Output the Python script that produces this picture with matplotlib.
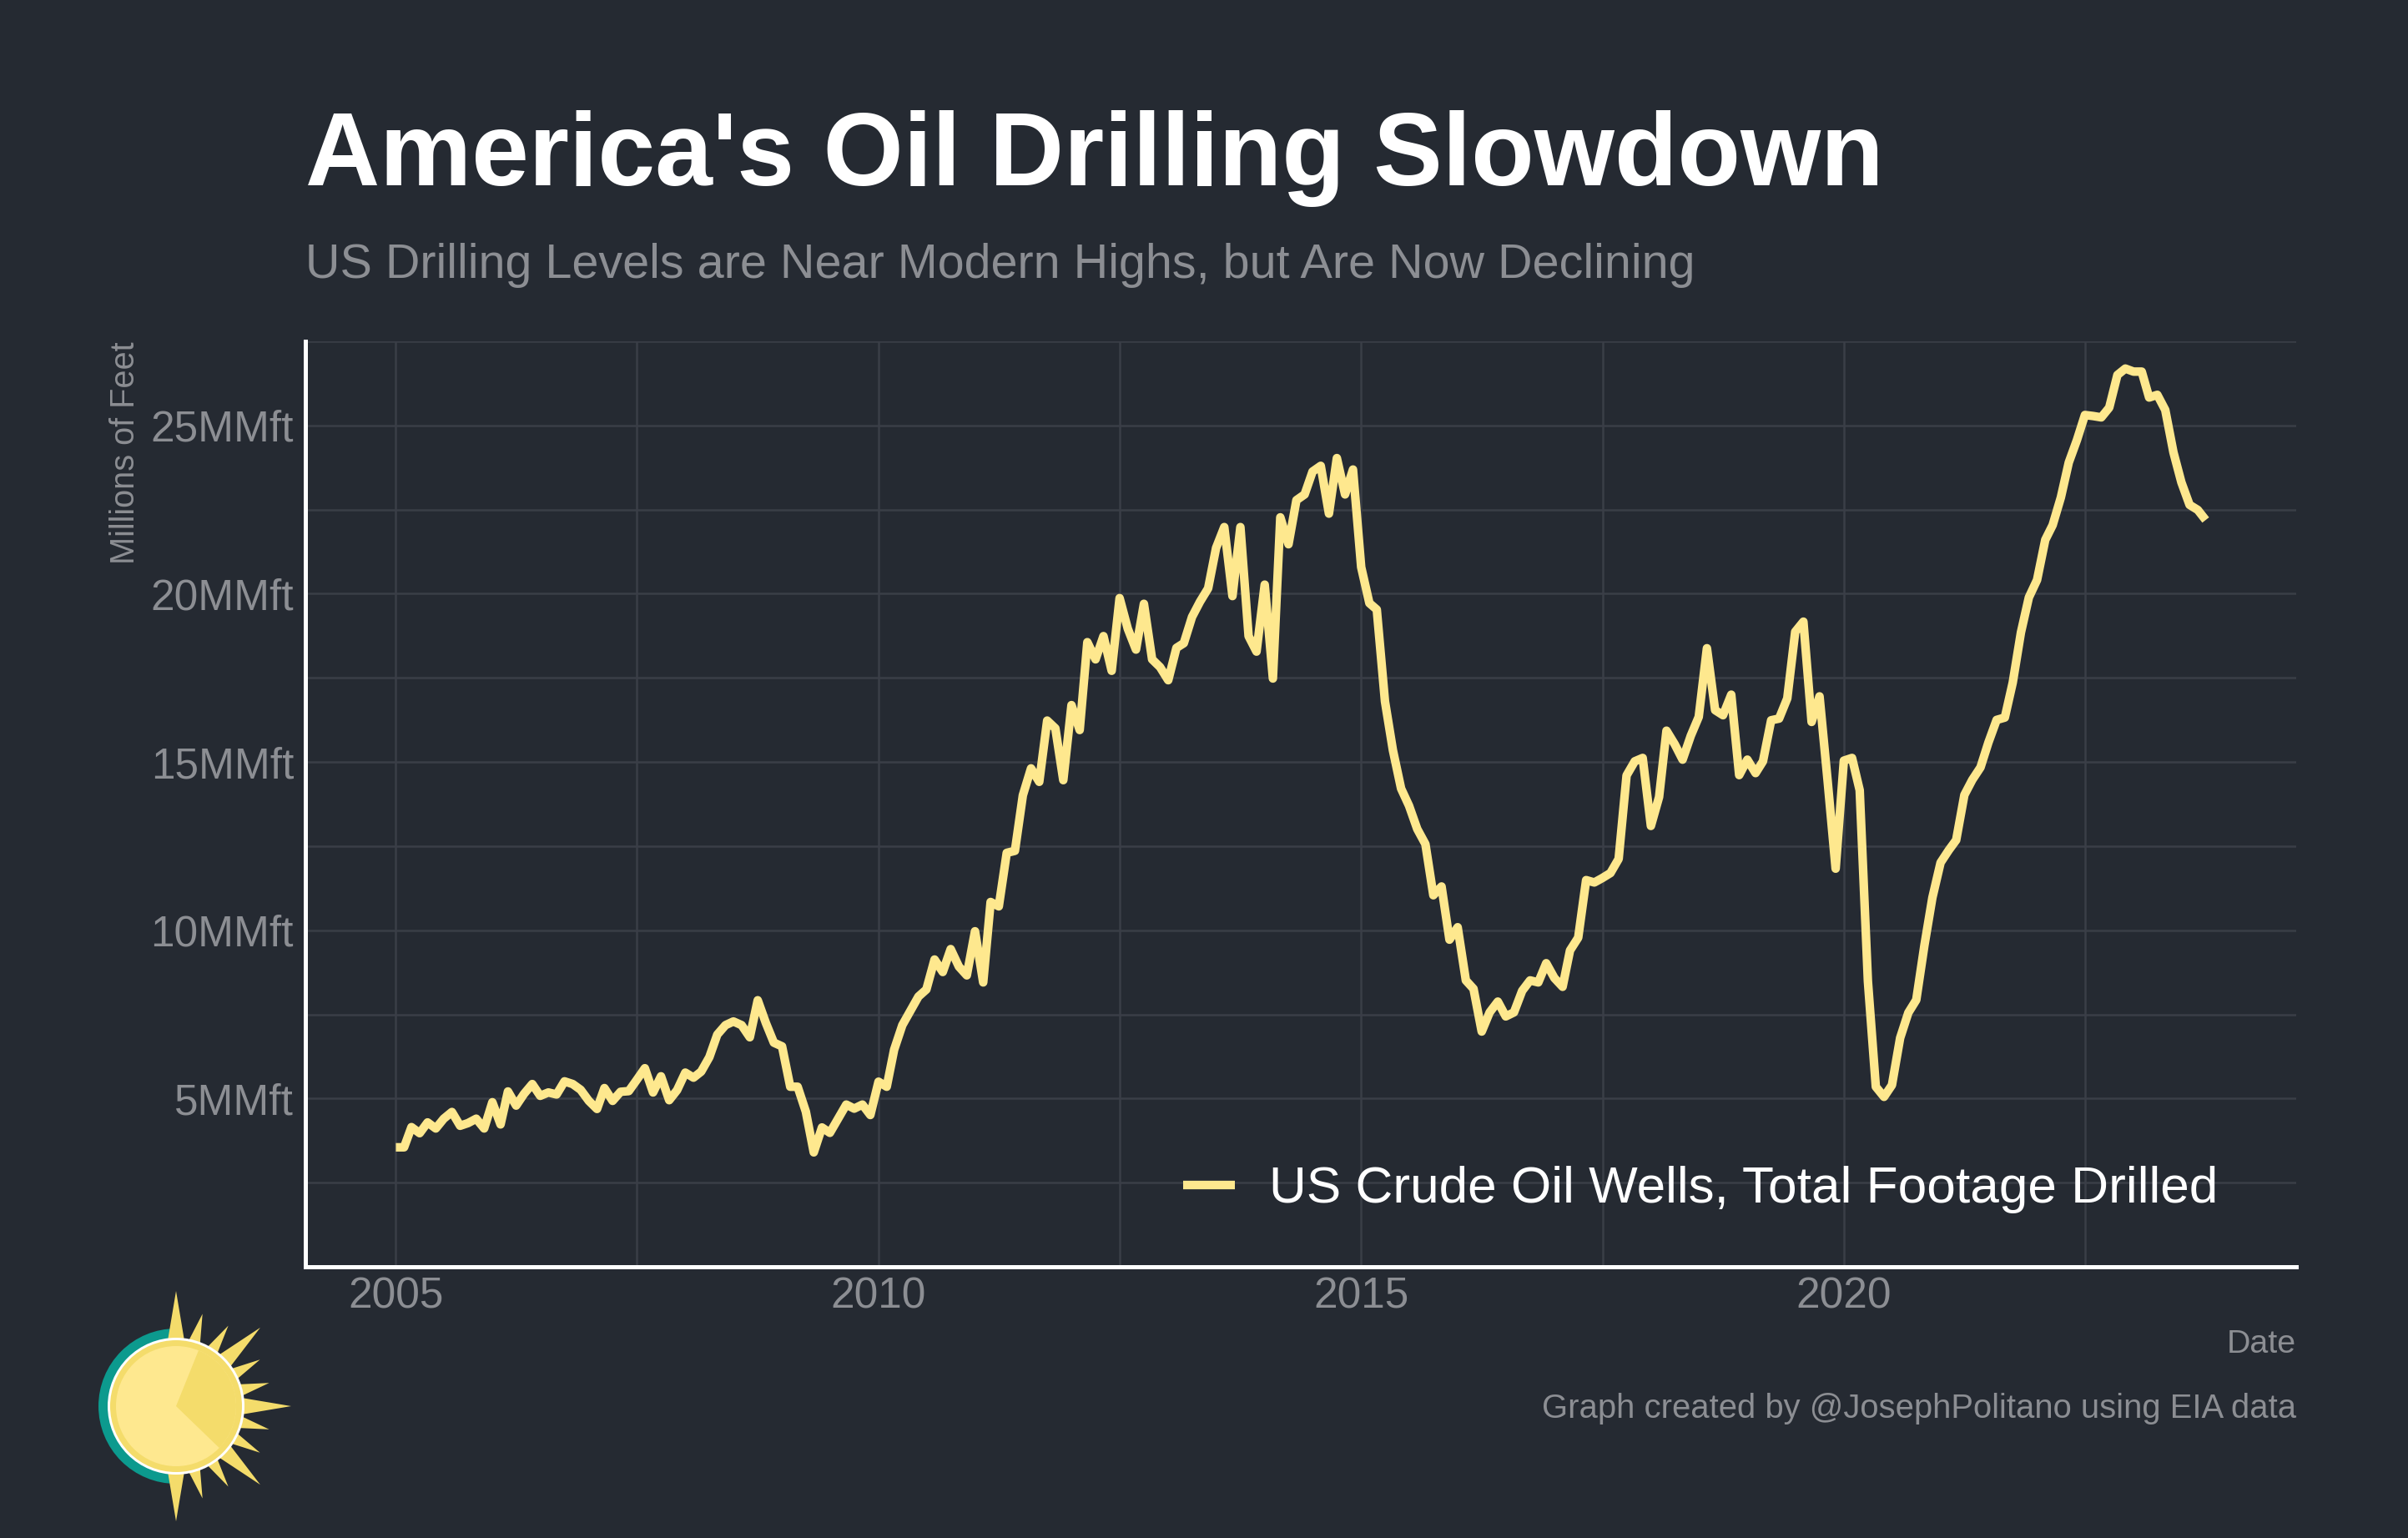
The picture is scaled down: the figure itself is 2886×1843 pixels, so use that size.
import matplotlib
matplotlib.use("Agg")
import matplotlib.pyplot as plt
import matplotlib.dates as mdates
from matplotlib.patches import Circle, Wedge, Polygon
from matplotlib.ticker import FixedLocator
import numpy as np
import pandas as pd

plt.rcParams['font.family'] = ['Liberation Sans', 'DejaVu Sans']

# US crude oil wells, total footage drilled (millions of feet), monthly from Jan 2005
ft_2005 = [3.55, 3.55, 4.15, 3.97, 4.29, 4.11, 4.40, 4.60, 4.19, 4.27, 4.40, 4.11]
ft_2006 = [4.89, 4.23, 5.21, 4.79, 5.14, 5.43, 5.08, 5.18, 5.12, 5.51, 5.43, 5.26]
ft_2007 = [4.93, 4.69, 5.31, 4.93, 5.20, 5.22, 5.55, 5.90, 5.18, 5.66, 4.95, 5.25]
ft_2008 = [5.77, 5.62, 5.80, 6.23, 6.90, 7.18, 7.29, 7.18, 6.82, 7.92, 7.24, 6.66]
ft_2009 = [6.55, 5.35, 5.35, 4.61, 3.40, 4.14, 3.98, 4.40, 4.82, 4.70, 4.82, 4.51]
ft_2010 = [5.50, 5.35, 6.45, 7.18, 7.60, 8.03, 8.24, 9.13, 8.76, 9.44, 8.92, 8.66]
ft_2011 = [9.97, 8.45, 10.84, 10.71, 12.30, 12.36, 14.01, 14.81, 14.41, 16.23, 16.00, 14.46]
ft_2012 = [16.69, 15.95, 18.56, 18.05, 18.74, 17.71, 19.87, 18.96, 18.34, 19.70, 18.05, 17.82]
ft_2013 = [17.43, 18.39, 18.53, 19.31, 19.76, 20.16, 21.36, 21.98, 19.93, 21.98, 18.74, 18.28]
ft_2014 = [20.27, 17.48, 22.27, 21.47, 22.78, 22.95, 23.63, 23.80, 22.38, 24.03, 22.95, 23.69]
ft_2015 = [20.79, 19.72, 19.53, 16.80, 15.35, 14.21, 13.70, 13.01, 12.56, 11.04, 11.30, 9.72]
ft_2016 = [10.09, 8.51, 8.26, 6.99, 7.56, 7.88, 7.44, 7.56, 8.20, 8.51, 8.45, 9.02]
ft_2017 = [8.58, 8.32, 9.40, 9.78, 11.49, 11.42, 11.55, 11.70, 12.12, 14.60, 15.02, 15.12]
ft_2018 = [13.10, 13.96, 15.93, 15.53, 15.07, 15.78, 16.34, 18.38, 16.54, 16.39, 17.00, 14.61]
ft_2019 = [15.07, 14.67, 15.02, 16.24, 16.29, 16.89, 18.87, 19.17, 16.19, 16.95, 14.41, 11.83]
ft_2020 = [15.04, 15.12, 14.16, 8.49, 5.35, 5.05, 5.40, 6.80, 7.55, 7.93, 9.56, 10.97]
ft_2021 = [12.01, 12.38, 12.68, 14.02, 14.47, 14.84, 15.58, 16.25, 16.32, 17.36, 18.85, 19.89]
ft_2022 = [20.41, 21.60, 22.04, 22.86, 23.90, 24.57, 25.31, 25.28, 25.24, 25.53, 26.50, 26.69]
ft_2023 = [26.60, 26.60, 25.83, 25.91, 25.46, 24.20, 23.31, 22.64, 22.49, 22.19]

footage = (ft_2005 + ft_2006 + ft_2007 + ft_2008 + ft_2009 + ft_2010 + ft_2011
           + ft_2012 + ft_2013 + ft_2014 + ft_2015 + ft_2016 + ft_2017 + ft_2018
           + ft_2019 + ft_2020 + ft_2021 + ft_2022 + ft_2023)
dates = pd.date_range("2005-01-01", periods=len(footage), freq="MS")

series_name = "US Crude Oil Wells, Total Footage Drilled"
year_ticks = [2005, 2010, 2015, 2020]
y_ticks = [5, 10, 15, 20, 25]

BG = "#252A32"
GRID = "#3A3E47"
GREY = "#8C8E93"
LINE = "#FEE88E"
SUN_DARK = "#F4DC6B"
SUN_LIGHT = "#FEE88F"
TEAL = "#0C9A8E"

W, H = 2886, 1843
fig = plt.figure(figsize=(W / 200, H / 200), dpi=200, facecolor=BG)

ax = fig.add_axes([366 / W, 1 - 1518 / H, (2752 - 366) / W, (1518 - 409) / H])
ax.set_facecolor(BG)

ax.plot(dates, footage, color=LINE, lw=3.7, solid_capstyle="butt",
        solid_joinstyle="round", label=series_name, zorder=3)

# x axis: ggplot style 5% expansion
span = dates[-1] - dates[0]
ax.set_xlim(dates[0] - span * 0.05, dates[-1] + span * 0.05)
ax.set_ylim(0, 27.5)

major_x = pd.to_datetime([f"{y}-01-01" for y in year_ticks])
minor_x = pd.to_datetime([f"{y}-07-02" for y in [2002, 2007, 2012, 2017, 2022]])
ax.xaxis.set_major_locator(FixedLocator(mdates.date2num(major_x)))
ax.xaxis.set_minor_locator(FixedLocator(mdates.date2num(minor_x)))
ax.set_xticklabels([str(y) for y in year_ticks])

ax.yaxis.set_major_locator(FixedLocator(y_ticks))
ax.yaxis.set_minor_locator(FixedLocator([2.5, 7.5, 12.5, 17.5, 22.5, 27.5]))
ax.set_yticklabels([f"{v}MMft" for v in y_ticks])

ax.grid(True, which="both", color=GRID, lw=0.9, zorder=0)
ax.set_axisbelow(True)
ax.tick_params(which="both", length=0, colors=GREY, labelsize=18.5)
ax.tick_params(axis="y", pad=5)
ax.tick_params(axis="x", pad=4)

for side in ["top", "right"]:
    ax.spines[side].set_visible(False)
for side in ["left", "bottom"]:
    ax.spines[side].set_color("white")
    ax.spines[side].set_linewidth(1.8)

leg = ax.legend(loc="center right", bbox_to_anchor=(0.9606, 0.0830), frameon=False,
                fontsize=22.35, handlelength=1.0, handletextpad=0.65,
                borderpad=0, borderaxespad=0)
for t in leg.get_texts():
    t.set_color("white")

# titles and notes
fig.text(366 / W, 1 - 222 / H, "America's Oil Drilling Slowdown", color="white",
         fontsize=44.5, fontweight="bold", ha="left", va="baseline")
fig.text(366 / W, 1 - 333 / H,
         "US Drilling Levels are Near Modern Highs, but Are Now Declining",
         color=GREY, fontsize=20.7, ha="left", va="baseline")
fig.text(150 / W, 1 - 409 / H, "Millions of Feet", color=GREY, fontsize=14.3,
         rotation=90, ha="center", va="top")
fig.text(2752 / W, 1 - 1621 / H, "Date", color=GREY, fontsize=14.2,
         ha="right", va="baseline")
fig.text(2752 / W, 1 - 1699 / H, "Graph created by @JosephPolitano using EIA data",
         color=GREY, fontsize=14.4, ha="right", va="baseline")

# sun logo
lg = fig.add_axes([(211 - 160) / W, (H - 1685 - 160) / H, 320 / W, 320 / H])
lg.set_xlim(-160, 160)
lg.set_ylim(-160, 160)
lg.axis("off")
lg.add_patch(Wedge((0, 0), 93, 90, 270, color=TEAL, lw=0))
ray_angles = [90, 74, 57, 43, 29, 14, 0, -14, -29, -43, -57, -74, -90]
for a in ray_angles:
    long_ray = a in (90, 43, 0, -43, -90)
    length = 138 if long_ray else 115
    half = 7.5 if long_ray else 5.5
    r0 = 78
    pts = [(r0 * np.cos(np.radians(a - half)), r0 * np.sin(np.radians(a - half))),
           (length * np.cos(np.radians(a)), length * np.sin(np.radians(a))),
           (r0 * np.cos(np.radians(a + half)), r0 * np.sin(np.radians(a + half)))]
    lg.add_patch(Polygon(pts, closed=True, color=SUN_DARK, lw=0))
lg.add_patch(Circle((0, 0), 82, color="white", lw=0))
lg.add_patch(Circle((0, 0), 79, color=SUN_DARK, lw=0))
lg.add_patch(Circle((0, 0), 72, color=SUN_LIGHT, lw=0))
lg.add_patch(Wedge((0, 0), 72, -44, 68, color=SUN_DARK, lw=0))

fig.savefig("out.png", dpi=200, facecolor=BG)
